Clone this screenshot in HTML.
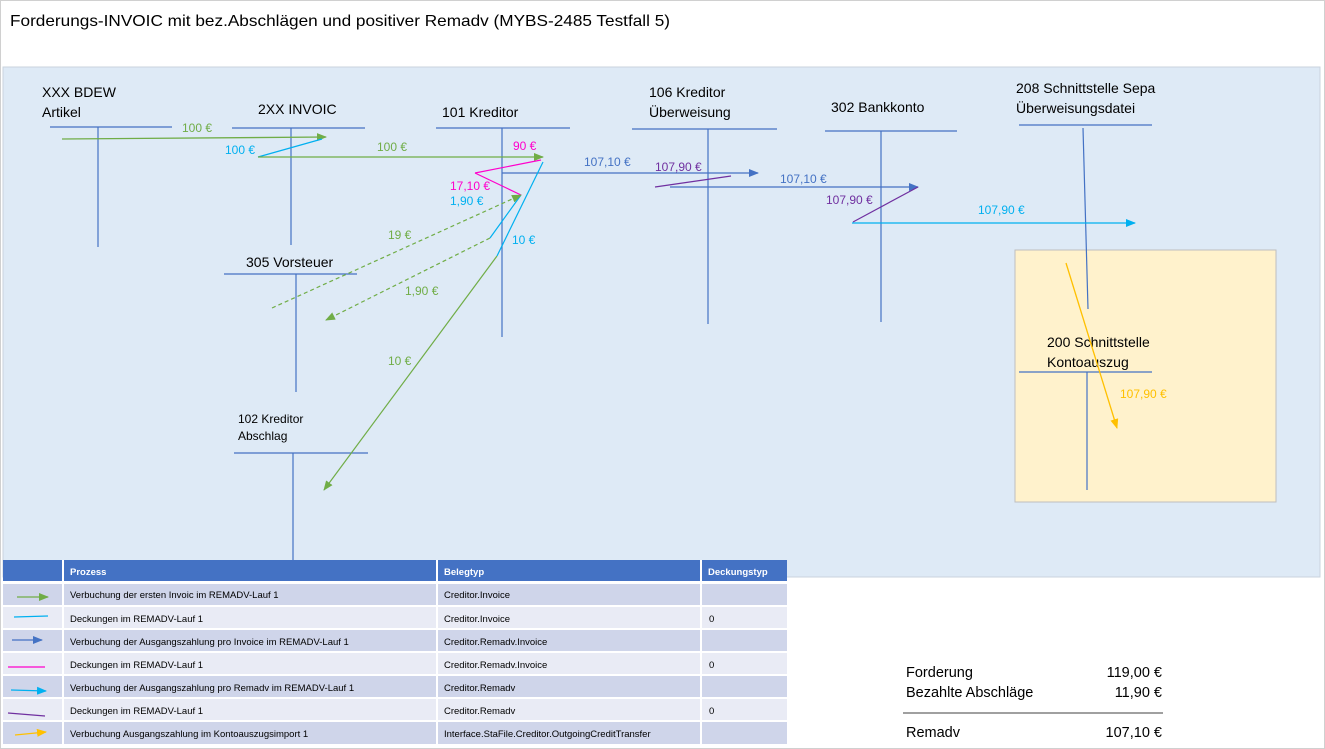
<!DOCTYPE html>
<html><head><meta charset="utf-8"><style>
html,body{margin:0;padding:0;background:#fff;}
svg{display:block;font-family:"Liberation Sans",sans-serif;}
</style></head><body>
<svg width="1325" height="749" viewBox="0 0 1325 749" xmlns="http://www.w3.org/2000/svg">
<defs>
<marker id="ag" markerWidth="10" markerHeight="8" refX="9" refY="4" orient="auto" markerUnits="userSpaceOnUse"><path d="M0,0 L10,4 L0,8z" fill="#70ad47"/></marker>
<marker id="ab" markerWidth="10" markerHeight="8" refX="9" refY="4" orient="auto" markerUnits="userSpaceOnUse"><path d="M0,0 L10,4 L0,8z" fill="#4472c4"/></marker>
<marker id="ac" markerWidth="10" markerHeight="8" refX="9" refY="4" orient="auto" markerUnits="userSpaceOnUse"><path d="M0,0 L10,4 L0,8z" fill="#00b0f0"/></marker>
<marker id="ay" markerWidth="10" markerHeight="8" refX="9" refY="4" orient="auto" markerUnits="userSpaceOnUse"><path d="M0,0 L10,4 L0,8z" fill="#ffc000"/></marker>
</defs>
<rect x="0.5" y="0.5" width="1324" height="748" fill="#fff" stroke="#d0d0d0"/>
<text x="10" y="26" font-size="16" textLength="660" lengthAdjust="spacingAndGlyphs">Forderungs-INVOIC mit bez.Abschlägen und positiver Remadv (MYBS-2485 Testfall 5)</text>
<rect x="3" y="67" width="1317" height="510" fill="#deeaf6" stroke="#c9d3de"/>
<rect x="1015" y="250" width="261" height="252" fill="#fff2cc" stroke="#bfbfbf"/>
<g stroke="#4472c4" stroke-width="1.2" fill="none">
<line x1="50" y1="127" x2="172" y2="127"/><line x1="98" y1="127" x2="98" y2="247"/>
<line x1="232" y1="128" x2="365" y2="128"/><line x1="291" y1="128" x2="291" y2="245"/>
<line x1="436" y1="128" x2="570" y2="128"/><line x1="502" y1="128" x2="502" y2="337"/>
<line x1="632" y1="129" x2="777" y2="129"/><line x1="708" y1="129" x2="708" y2="324"/>
<line x1="825" y1="131" x2="957" y2="131"/><line x1="881" y1="131" x2="881" y2="322"/>
<line x1="1019" y1="125" x2="1152" y2="125"/><line x1="1083" y1="128" x2="1088" y2="309"/>
<line x1="224" y1="274" x2="357" y2="274"/><line x1="296" y1="274" x2="296" y2="392"/>
<line x1="234" y1="453" x2="368" y2="453"/><line x1="293" y1="453" x2="293" y2="560"/>
<line x1="1019" y1="372" x2="1152" y2="372"/><line x1="1087" y1="372" x2="1087" y2="490"/>
</g>
<g font-size="14" fill="#000">
<text x="42" y="97">XXX BDEW</text><text x="42" y="117">Artikel</text>
<text x="258" y="114">2XX INVOIC</text>
<text x="442" y="117">101 Kreditor</text>
<text x="649" y="97">106 Kreditor</text><text x="649" y="117">Überweisung</text>
<text x="831" y="112">302 Bankkonto</text>
<text x="1016" y="93">208 Schnittstelle Sepa</text><text x="1016" y="113">Überweisungsdatei</text>
<text x="246" y="267">305 Vorsteuer</text>
<text x="1047" y="347">200 Schnittstelle</text><text x="1047" y="367">Kontoauszug</text>
<text x="238" y="423" font-size="12">102 Kreditor</text><text x="238" y="440" font-size="12">Abschlag</text>
</g>
<!-- connectors -->
<line x1="62" y1="139" x2="326" y2="137" stroke="#70ad47" stroke-width="1.3" marker-end="url(#ag)"/>
<line x1="258" y1="157" x2="322" y2="139" stroke="#00b0f0" stroke-width="1.2"/>
<line x1="258" y1="157" x2="543" y2="157" stroke="#70ad47" stroke-width="1.3" marker-end="url(#ag)"/>
<line x1="475" y1="173" x2="541" y2="160" stroke="#ff00cc" stroke-width="1.2"/>
<line x1="475" y1="173" x2="521" y2="195" stroke="#ff00cc" stroke-width="1.2"/>
<line x1="502" y1="173" x2="758" y2="173" stroke="#4472c4" stroke-width="1.2" marker-end="url(#ab)"/>
<line x1="655" y1="187" x2="731" y2="176" stroke="#7030a0" stroke-width="1.2"/>
<line x1="670" y1="187" x2="918" y2="187" stroke="#4472c4" stroke-width="1.2" marker-end="url(#ab)"/>
<line x1="853" y1="222" x2="918" y2="187" stroke="#7030a0" stroke-width="1.2"/>
<line x1="852" y1="223" x2="1135" y2="223" stroke="#00b0f0" stroke-width="1.2" marker-end="url(#ac)"/>
<line x1="543" y1="162" x2="497" y2="256" stroke="#00b0f0" stroke-width="1.2"/>
<line x1="490" y1="238" x2="521" y2="195" stroke="#00b0f0" stroke-width="1.2"/>
<line x1="272" y1="308" x2="521" y2="195" stroke="#70ad47" stroke-width="1.2" stroke-dasharray="4,3" marker-end="url(#ag)"/>
<line x1="490" y1="238" x2="326" y2="320" stroke="#70ad47" stroke-width="1.2" stroke-dasharray="4,3" marker-end="url(#ag)"/>
<line x1="497" y1="256" x2="324" y2="490" stroke="#70ad47" stroke-width="1.2" marker-end="url(#ag)"/>
<line x1="1066" y1="263" x2="1117" y2="428" stroke="#ffc000" stroke-width="1.3" marker-end="url(#ay)"/>
<g font-size="12">
<text x="182" y="132" fill="#70ad47">100 €</text>
<text x="225" y="154" fill="#00b0f0">100 €</text>
<text x="377" y="151" fill="#70ad47">100 €</text>
<text x="513" y="150" fill="#ff00cc">90 €</text>
<text x="584" y="166" fill="#4472c4">107,10 €</text>
<text x="655" y="171" fill="#7030a0">107,90 €</text>
<text x="780" y="183" fill="#4472c4">107,10 €</text>
<text x="826" y="204" fill="#7030a0">107,90 €</text>
<text x="978" y="214" fill="#00b0f0">107,90 €</text>
<text x="450" y="190" fill="#ff00cc">17,10 €</text>
<text x="450" y="205" fill="#00b0f0">1,90 €</text>
<text x="388" y="239" fill="#70ad47">19 €</text>
<text x="512" y="244" fill="#00b0f0">10 €</text>
<text x="405" y="295" fill="#70ad47">1,90 €</text>
<text x="388" y="365" fill="#70ad47">10 €</text>
<text x="1120" y="398" fill="#ffc000">107,90 €</text>
</g>
<!-- table -->
<rect x="3" y="560" width="784" height="21" fill="#4472c4"/>
<g stroke="#fff" stroke-width="2"><line x1="63" y1="560" x2="63" y2="746"/><line x1="437" y1="560" x2="437" y2="746"/><line x1="701" y1="560" x2="701" y2="746"/></g>
<g font-size="9.5" font-weight="bold" fill="#fff"><text x="70" y="575">Prozess</text><text x="444" y="575">Belegtyp</text><text x="708" y="575">Deckungstyp</text></g>
<g>
<rect x="3" y="584" width="784" height="21" fill="#cfd5ea"/>
<rect x="3" y="607" width="784" height="21" fill="#e9ebf5"/>
<rect x="3" y="630" width="784" height="21" fill="#cfd5ea"/>
<rect x="3" y="653" width="784" height="21" fill="#e9ebf5"/>
<rect x="3" y="676" width="784" height="21" fill="#cfd5ea"/>
<rect x="3" y="699" width="784" height="21" fill="#e9ebf5"/>
<rect x="3" y="722" width="784" height="22" fill="#cfd5ea"/>
</g>
<g stroke="#fff" stroke-width="2"><line x1="63" y1="584" x2="63" y2="746"/><line x1="437" y1="584" x2="437" y2="746"/><line x1="701" y1="584" x2="701" y2="746"/></g>
<line x1="17" y1="597" x2="48" y2="597" stroke="#70ad47" stroke-width="1.2" marker-end="url(#ag)"/>
<line x1="14" y1="617" x2="48" y2="616" stroke="#00b0f0" stroke-width="1.2"/>
<line x1="12" y1="640" x2="42" y2="640" stroke="#4472c4" stroke-width="1.2" marker-end="url(#ab)"/>
<line x1="8" y1="667" x2="45" y2="667" stroke="#ff00cc" stroke-width="1.2"/>
<line x1="11" y1="690" x2="46" y2="691" stroke="#00b0f0" stroke-width="1.2" marker-end="url(#ac)"/>
<line x1="8" y1="713" x2="45" y2="716" stroke="#7030a0" stroke-width="1.2"/>
<line x1="15" y1="735" x2="46" y2="732" stroke="#ffc000" stroke-width="1.2" marker-end="url(#ay)"/>
<g font-size="9.5" fill="#000">
<text x="70" y="598">Verbuchung der ersten Invoic im REMADV-Lauf 1</text><text x="444" y="598">Creditor.Invoice</text>
<text x="70" y="622">Deckungen im REMADV-Lauf 1</text><text x="444" y="622">Creditor.Invoice</text><text x="709" y="622">0</text>
<text x="70" y="645">Verbuchung der Ausgangszahlung pro Invoice im REMADV-Lauf 1</text><text x="444" y="645">Creditor.Remadv.Invoice</text>
<text x="70" y="668">Deckungen im REMADV-Lauf 1</text><text x="444" y="668">Creditor.Remadv.Invoice</text><text x="709" y="668">0</text>
<text x="70" y="691">Verbuchung der Ausgangszahlung pro Remadv im REMADV-Lauf 1</text><text x="444" y="691">Creditor.Remadv</text>
<text x="70" y="714">Deckungen im REMADV-Lauf 1</text><text x="444" y="714">Creditor.Remadv</text><text x="709" y="714">0</text>
<text x="70" y="737">Verbuchung Ausgangszahlung im Kontoauszugsimport 1</text><text x="444" y="737">Interface.StaFile.Creditor.OutgoingCreditTransfer</text>
</g>
<!-- summary -->
<g font-size="14.5" fill="#000">
<text x="906" y="677">Forderung</text><text x="1162" y="677" text-anchor="end">119,00 €</text>
<text x="906" y="697">Bezahlte Abschläge</text><text x="1162" y="697" text-anchor="end">11,90 €</text>
<text x="906" y="737">Remadv</text><text x="1162" y="737" text-anchor="end">107,10 €</text>
</g>
<line x1="903" y1="713" x2="1163" y2="713" stroke="#404040" stroke-width="1"/>
</svg>
</body></html>
